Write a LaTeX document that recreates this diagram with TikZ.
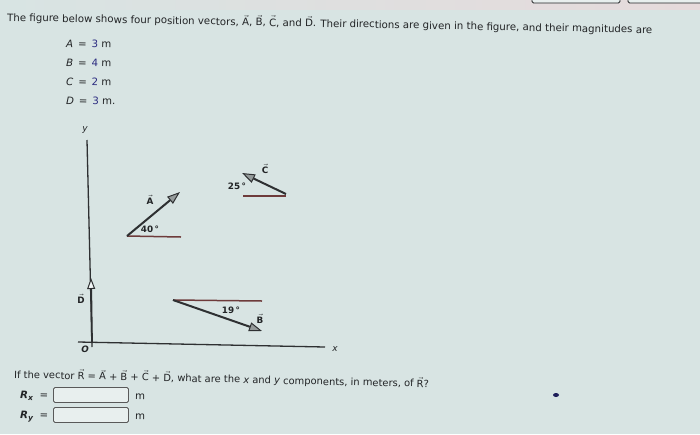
\documentclass[tikz,border=0pt]{standalone}
\usepackage{fontspec}
\setmainfont{DejaVu Sans}
\usetikzlibrary{arrows.meta}
\definecolor{bg}{HTML}{D8E4E3}
\definecolor{ink}{HTML}{222426}
\definecolor{numblue}{HTML}{2B2B80}
\definecolor{refred}{HTML}{6E3B3B}
\definecolor{vecink}{HTML}{2E3032}
\definecolor{headfill}{HTML}{959B9B}
\definecolor{pinkish}{HTML}{E6DADB}
\newcommand\vv[1]{$\vec{\mbox{#1}}$}
\newcommand\subsc[1]{\raisebox{-2.5pt}{\fontsize{7.5}{8}\selectfont\textbf{\textit{#1}}}}
\tikzset{
  txt/.style={text=ink, inner sep=0pt, anchor=base west, rotate=-1.1, font=\fontsize{10.2}{12}\selectfont},
  lbl/.style={text=ink, inner sep=0pt, font=\fontsize{8.8}{9}\selectfont\bfseries},
  axisline/.style={draw=vecink, line width=1.3pt},
  vecline/.style={draw=vecink, line width=2pt, -{Triangle[length=13pt,width=9pt,fill=headfill,line width=1pt]}},
  dvec/.style={draw=vecink, line width=1.8pt, -{Triangle[length=11pt,width=8pt,fill=bg!30!white,line width=1pt]}},
  refline/.style={draw=refred, line width=1.5pt},
  inbox/.style={draw=gray!70!black, fill=bg!60!white, line width=0.8pt, rounded corners=1.5pt},
}
\begin{document}
\begin{tikzpicture}[x=1pt,y=-1pt]
\fill[bg] (0,0) rectangle (700,434);
\shade[left color=bg, right color=pinkish] (0,0) rectangle (700,9);
\useasboundingbox (0,0) rectangle (700,434);
% cut-off buttons at top right
\draw[inbox, draw=ink] (532,-6) rectangle (620,3);
\draw[inbox, draw=ink] (628,-6) rectangle (706,3);

% intro text
\node[txt] (intro) at (7,21) {The figure below shows four position vectors, \vv{A}, \vv{B}, \vv{C}, and \vv{D}. Their directions are given in the figure, and their magnitudes are};
\node[txt] (magA) at (66,47) {\textit{A} \,=\, \textcolor{numblue}{3} m};
\node[txt] (magB) at (66,66) {\textit{B} \,=\, \textcolor{numblue}{4} m};
\node[txt] (magC) at (66,85) {\textit{C} \,=\, \textcolor{numblue}{2} m};
\node[txt] (magD) at (66,104) {\textit{D} \,=\, \textcolor{numblue}{3} m.};

% axes
\coordinate (ytop) at (87,140);
\coordinate (ybot) at (92,347);
\coordinate (xl) at (78,342);
\coordinate (xr) at (325,347);
\draw[axisline] (ybot) -- (ytop);
\draw[axisline] (xl) -- (xr);
\node[lbl, font=\fontsize{9}{9}\selectfont] (ylab) at (85,130) {\textit{y}};
\node[lbl, font=\fontsize{9}{9}\selectfont] (xlab) at (335,349) {\textit{x}};
\node[lbl] (olab) at (85,349) {\textit{O}};

% vector A
\coordinate (Atail) at (127,236);
\coordinate (Atip) at (180,192);
\coordinate (Aref) at (181,237);
\draw[refline] (Atail) -- (Aref);
\draw[vecline] (Atail) -- (Atip);
\node[lbl] (Alab) at (150,200) {\vv{A}};
\node[lbl] (Aang) at (150,229) {40\,°};

% vector C
\coordinate (Ctail) at (286,194);
\coordinate (Ctip) at (242,173);
\coordinate (Cref1) at (243,196);
\coordinate (Cref2) at (286,196);
\draw[refline] (Cref1) -- (Cref2);
\draw[vecline] (Ctail) -- (Ctip);
\node[lbl] (Clab) at (265,169) {\vv{C}};
\node[lbl] (Cang) at (237,186) {25\,°};

% vector B
\coordinate (Btail) at (173,300);
\coordinate (Btip) at (262,331);
\coordinate (Bref) at (262,301);
\draw[refline] (Btail) -- (Bref);
\draw[vecline] (Btail) -- (Btip);
\node[lbl] (Blab) at (260,319) {\vv{B}};
\node[lbl] (Bang) at (231,310) {19\,°};

% vector D
\coordinate (Dtail) at (92,343);
\coordinate (Dtip) at (91,278);
\draw[dvec] (Dtail) -- (Dtip);
\node[lbl] (Dlab) at (81,299) {\vv{D}};

% question
\node[txt, font=\fontsize{9.9}{12}\selectfont, rotate=-0.2] (question) at (14,378) {If the vector \vv{R} = \vv{A} + \vv{B} + \vv{C} + \vv{D}, what are the \textit{x} and \textit{y} components, in meters, of \vv{R}?};
\node[txt] (rxlab) at (20,398) {\textbf{\textit{R}}\subsc{x}\ \ =};
\node[txt] (rylab) at (20,418) {\textbf{\textit{R}}\subsc{y}\ \ =};
\node[inbox, minimum width=75pt, minimum height=15pt, inner sep=0pt] (rxbox) at (91,395) {};
\node[inbox, minimum width=75pt, minimum height=15pt, inner sep=0pt] (rybox) at (91,415) {};
\node[txt] (rxunit) at (135,399) {m};
\node[txt] (ryunit) at (135,419) {m};
\fill[numblue!70!black] (556,395) ellipse (3pt and 2pt);
\end{tikzpicture}
\end{document}
